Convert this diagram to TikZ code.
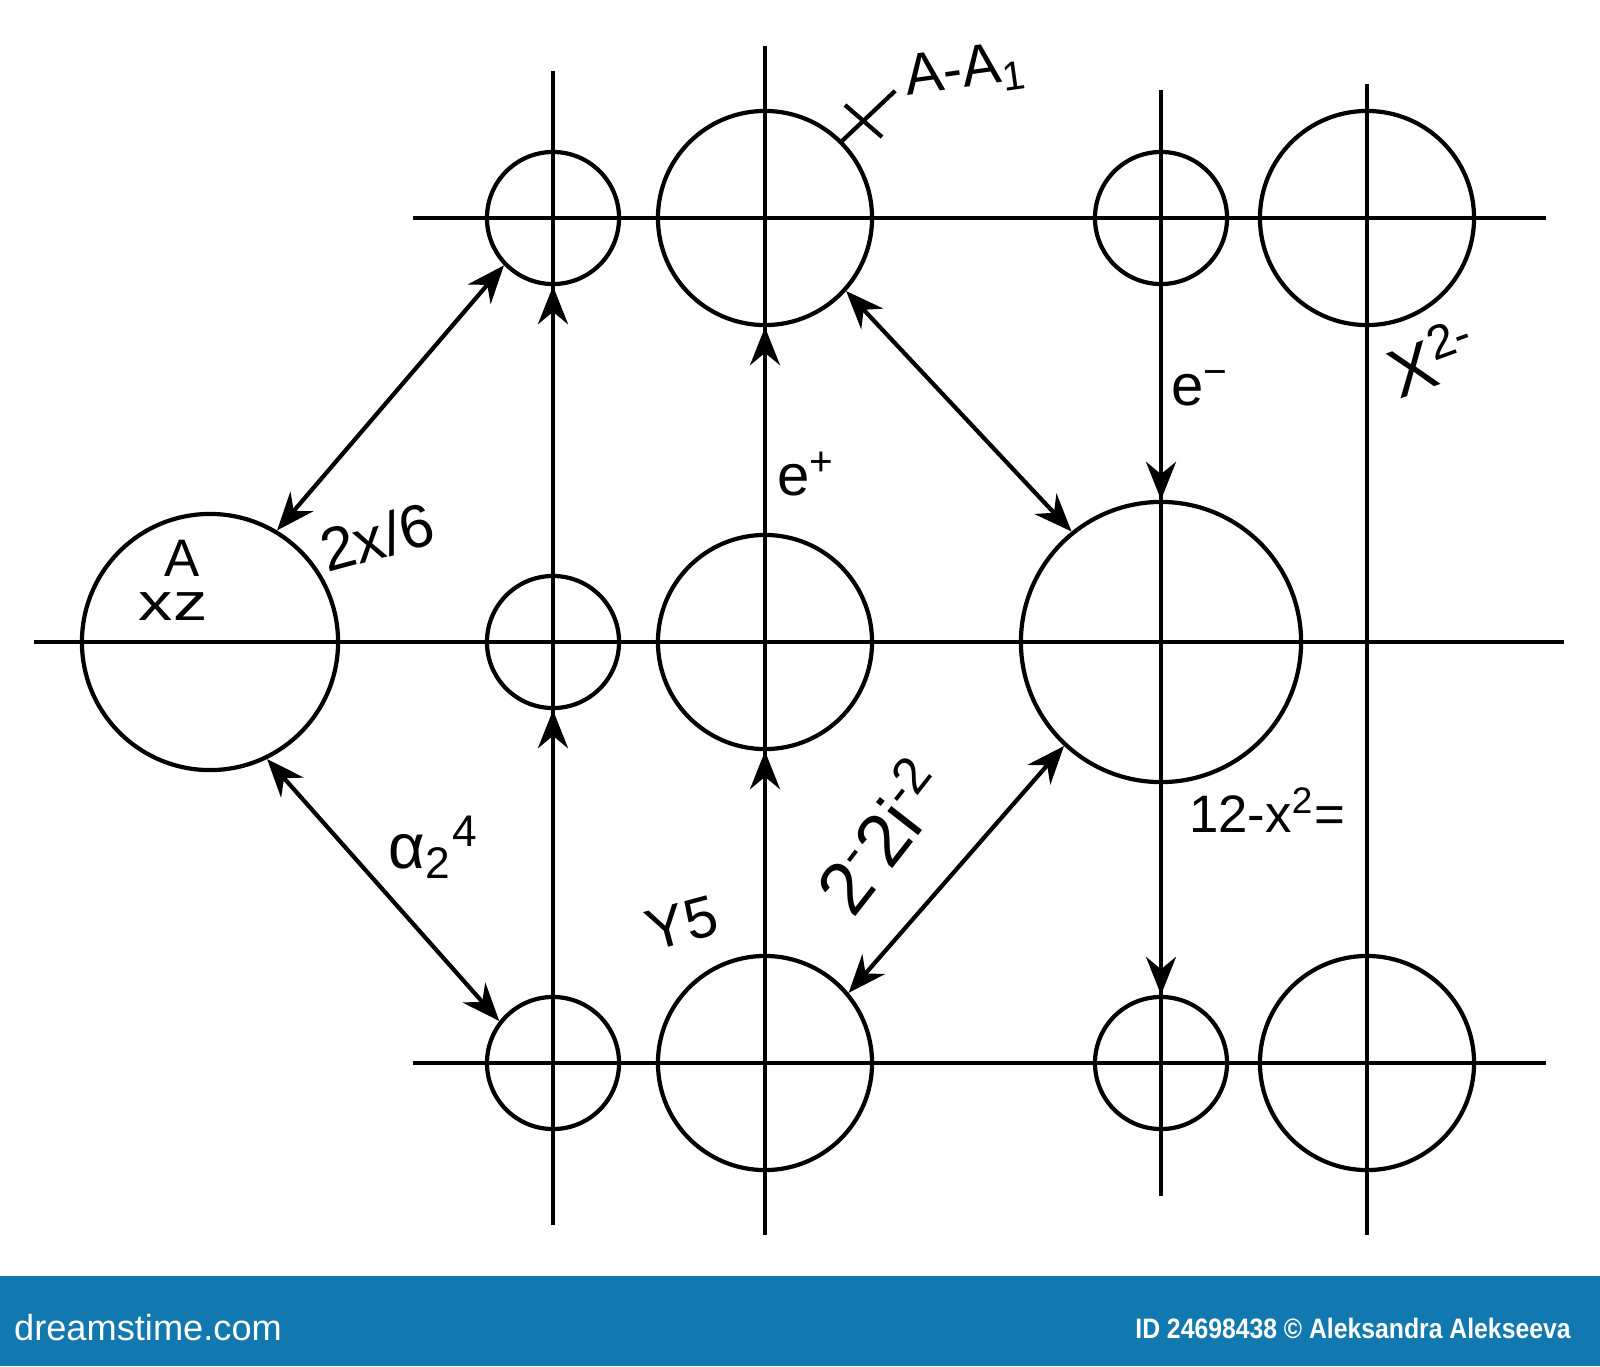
\documentclass[tikz,border=0pt]{standalone}
\usepackage{fontspec}
\setmainfont{Liberation Sans}
\usetikzlibrary{arrows.meta,calc}
\definecolor{bannerblue}{RGB}{17,120,176}
\tikzset{
  wire/.style={line width=1.2pt},
  ring/.style={circle,draw,line width=1.2pt,inner sep=0pt},
  smallring/.style={ring,minimum size=1.32cm},
  bigring/.style={ring,minimum size=2.14cm},
  dbl/.style={{Stealth[length=3.8mm,width=3mm]}-{Stealth[length=3.8mm,width=3mm]},line width=1.2pt},
  flow/.style={-{Stealth[length=3.8mm,width=3mm]},line width=1.2pt},
  hand/.style={font=\fontsize{15}{17}\selectfont,inner sep=0pt}
}

\begin{document}
\begin{tikzpicture}[x=0.01cm,y=-0.01cm]
    \useasboundingbox (0,0) rectangle (1600,1366);
    % axes
    \draw[wire] (413,218)--(1546,218);
    \draw[wire] (34,642)--(1564,642);
    \draw[wire] (413,1063)--(1546,1063);
    \draw[wire] (553,71)--(553,1225);
    \draw[wire] (765,46)--(765,1235);
    \draw[wire] (1161,90)--(1161,1196);
    \draw[wire] (1367,84)--(1367,1235);
    % circles
    \node[ring,minimum size=2.56cm] (A) at (210,642) {};
    \node[smallring] (s1) at (553,218) {};
    \node[bigring] (b1) at (765,218) {};
    \node[smallring] (s2) at (1161,218) {};
    \node[bigring] (b2) at (1367,218) {};
    \node[smallring] (s3) at (553,642) {};
    \node[bigring] (b3) at (765,642) {};
    \node[ring,minimum size=2.80cm] (h) at (1161,642) {};
    \node[smallring] (s4) at (553,1063) {};
    \node[bigring] (b4) at (765,1063) {};
    \node[smallring] (s5) at (1161,1063) {};
    \node[bigring] (b5) at (1367,1063) {};
    % flow marks
    \foreach \c in {s1,s3,b1,b3} \draw[flow] ($(\c.south)+(0,50)$)--(\c.south);
    \foreach \c in {h,s5} \draw[flow] ($(\c.north)+(0,-50)$)--(\c.north);
    % links
    \draw[dbl] (A.59)--(s1.224);
    \draw[dbl] (A.-64)--(s4.142);
    \draw[dbl] (b1.-42)--(h.129);
    \draw[dbl] (h.227)--(b4.40);
    % leader
    \draw[wire] (b1.45)--++(53,-50) coordinate (ldr);
    \draw[wire] (845,105)--(882,137);
    % labels
    \node[hand] (la) at (182,558) {A};
    \node[hand,xscale=1.3] (lxz) at (173,607) {xz};
    \node[hand,rotate=15,scale=1.15] (l26) at (377,537) {2x/6};
    \node[hand,scale=1.1] (lep) at (806,474) {e\textsuperscript{+}};
    \node[hand,scale=1.1] (lem) at (1200,388) {e\textsuperscript{−}};
    \node[hand,rotate=20,scale=1.3] (lx2) at (1432,357) {X\textsuperscript{2-}};
    \node[hand,rotate=8,scale=1.1] (laa) at (965,72) {A-A\textsubscript{1}};
    \node[hand,scale=1.2] (lal) at (434,847) {α\textsubscript{2}\textsuperscript{4}};
    \node[hand,rotate=15,scale=1.1] (ly5) at (682,923) {Y5};
    \node[hand,rotate=52,scale=1.4] (l22) at (880,835) {2\textsuperscript{-}2i\textsuperscript{-2}};
    \node[hand] (l12) at (1267,810) {12-x\textsuperscript{2}=};
    % banner
    \fill[bannerblue] (0,1276) rectangle (1600,1366);
    \node[text=white,font=\fontsize{10.3}{12}\selectfont] (site) at (148,1328) {dreamstime.com};
    \node[text=white,font=\bfseries\fontsize{8}{10}\selectfont,xscale=0.88] (id) at (1353,1328) {ID 24698438 © Aleksandra Alekseeva};
\end{tikzpicture}
\end{document}
